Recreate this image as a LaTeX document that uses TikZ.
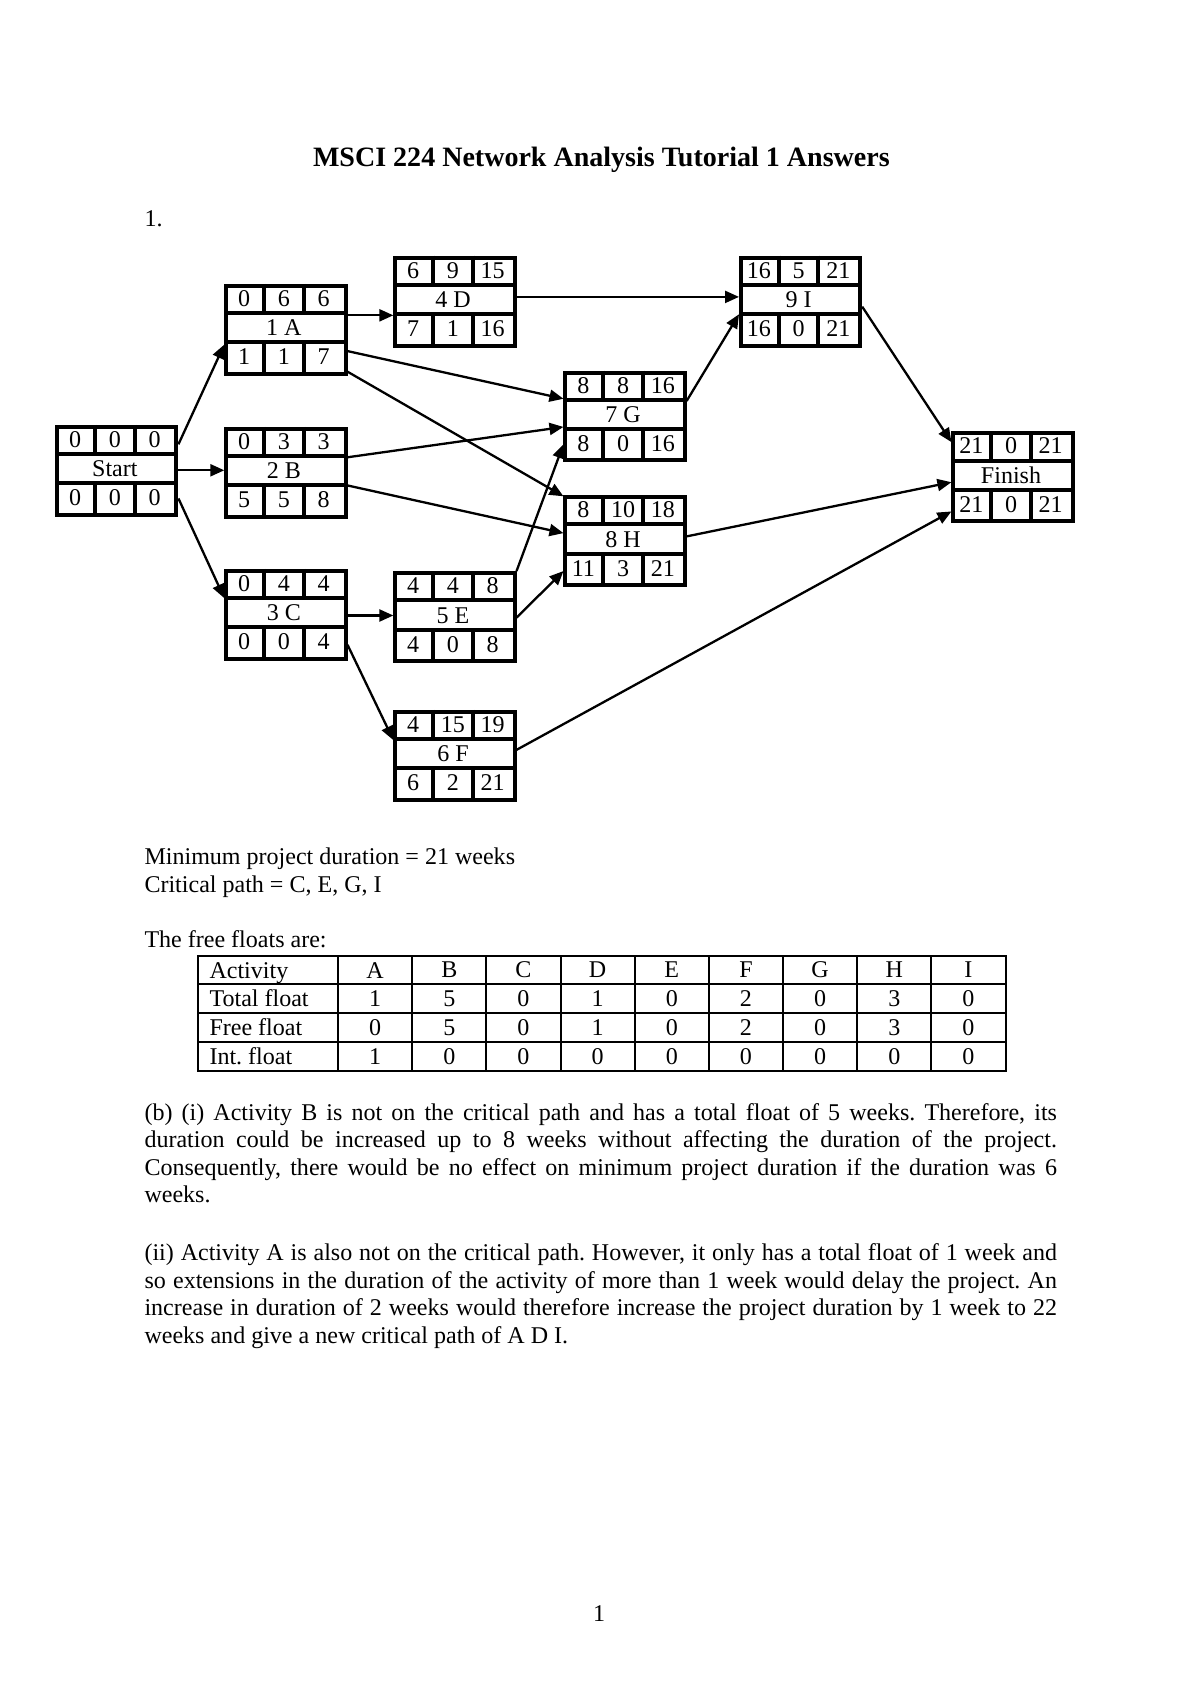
\documentclass[tikz,border=0pt]{standalone}
\usepackage{fontspec}
\setmainfont{Liberation Serif}
\usetikzlibrary{calc,arrows.meta}
\frenchspacing
\tikzset{
  actbox/.style={draw, line width=2pt, minimum width=59.53pt, minimum height=43.84pt, inner sep=0pt, anchor=north west},
  boxline/.style={line width=2pt},
  celltxt/.style={inner sep=0pt, font=\fontsize{12}{14}\selectfont},
  conn/.style={line width=1.15pt, -{Triangle[length=7pt,width=6pt]}},
  tline/.style={line width=1pt},
  txt/.style={inner sep=0pt, anchor=base west, font=\fontsize{12}{14}\selectfont},
}
\newcommand\Act[9]{%
  \node[actbox] (#1) at (#2) {};
  \draw[boxline] ($(#1.north west)+(0,27)$) -- ($(#1.north east)+(0,27)$);
  \draw[boxline] ($(#1.north west)+(0,54)$) -- ($(#1.north east)+(0,54)$);
  \draw[boxline] ($(#1.north west)+(36.67,0)$) -- ++(0,27);
  \draw[boxline] ($(#1.north west)+(73.33,0)$) -- ++(0,27);
  \draw[boxline] ($(#1.north west)+(36.67,54)$) -- ++(0,27);
  \draw[boxline] ($(#1.north west)+(73.33,54)$) -- ++(0,27);
  \node[celltxt] (#1-t1) at ($(#1.north west)+(18.33,13.5)$) {#3};
  \node[celltxt] (#1-t2) at ($(#1.north west)+(55,13.5)$) {#4};
  \node[celltxt] (#1-t3) at ($(#1.north west)+(91.67,13.5)$) {#5};
  \node[celltxt, anchor=base] (#1-m) at ($(#1.north west)+(55,48)$) {#6};
  \node[celltxt] (#1-b1) at ($(#1.north west)+(18.33,67.5)$) {#7};
  \node[celltxt] (#1-b2) at ($(#1.north west)+(55,67.5)$) {#8};
  \node[celltxt] (#1-b3) at ($(#1.north west)+(91.67,67.5)$) {#9};
}
\begin{document}
\begin{tikzpicture}[x=0.5412pt, y=-0.5412pt]
\useasboundingbox[fill=white] (0,0) rectangle (1108,1567);

\node[anchor=base, inner sep=0pt] (title) at (555,154) {\bfseries\fontsize{14}{16}\selectfont MSCI 224 Network Analysis Tutorial 1 Answers};
\node[txt] (num1) at (133,209) {1.};

% activity boxes (top-left corners)
\Act{S}{51,392}{0}{0}{0}{Start}{0}{0}{0}
\Act{A}{207,262}{0}{6}{6}{1 A}{1}{1}{7}
\Act{B}{207,394}{0}{3}{3}{2 B}{5}{5}{8}
\Act{C}{207,525}{0}{4}{4}{3 C}{0}{0}{4}
\Act{D}{363,236}{6}{9}{15}{4 D}{7}{1}{16}
\Act{E}{363,527}{4}{4}{8}{5 E}{4}{0}{8}
\Act{F}{363,655}{4}{15}{19}{6 F}{6}{2}{21}
\Act{G}{520,342}{8}{8}{16}{7 G}{8}{0}{16}
\Act{H}{520,457}{8}{10}{18}{8 H}{11}{3}{21}
\Act{I}{682,236}{16}{5}{21}{9 I}{16}{0}{21}
\Act{Fin}{878,398}{21}{0}{21}{Finish}{21}{0}{21}

% connectors
\draw[conn] ($(S.north east)+(0,18)$) -- ($(A.north west)+(0,56)$);
\draw[conn] ($(S.north east)+(0,42)$) -- ($(B.north west)+(0,40)$);
\draw[conn] ($(S.north east)+(0,68)$) -- ($(C.north west)+(0,27)$);
\draw[conn] ($(A.north east)+(0,29)$) -- ($(D.north west)+(0,55)$);
\draw[conn] ($(A.north east)+(0,62)$) -- ($(G.north west)+(0,26)$);
\draw[conn] ($(A.north east)+(0,81)$) -- ($(H.north west)+(0,1)$);
\draw[conn] ($(B.north east)+(0,28)$) -- ($(G.north west)+(0,52)$);
\draw[conn] ($(B.north east)+(0,54)$) -- ($(H.north west)+(0,35)$);
\draw[conn] ($(C.north east)+(0,43)$) -- ($(E.north west)+(0,41)$);
\draw[conn] ($(C.north east)+(0,70)$) -- ($(F.north west)+(0,28)$);
\draw[conn] ($(E.north east)+(0,0)$) -- ($(G.north west)+(0,68)$);
\draw[conn] ($(E.north east)+(0,43)$) -- ($(H.north west)+(0,70)$);
\draw[conn] ($(F.north east)+(0,37)$) -- ($(Fin.north west)+(0,74)$);
\draw[conn] ($(D.north east)+(0,38)$) -- ($(I.north west)+(0,38)$);
\draw[conn] ($(G.north east)+(0,28)$) -- ($(I.north west)+(0,54)$);
\draw[conn] ($(H.north east)+(0,38)$) -- ($(Fin.north west)+(0,47)$);
\draw[conn] ($(I.north east)+(0,47)$) -- ($(Fin.north west)+(0,10)$);

% text
\node[txt] (dur) at (133,798) {Minimum project duration = 21 weeks};
\node[txt] (crit) at (133,824) {Critical path = C, E, G, I};
\node[txt] (ff) at (133,874) {The free floats are:};

% table
\draw[tline] (183,882) rectangle (928,988);
\foreach \r in {1,2,3} {\draw[tline] (183,882+26.5*\r) -- (928,882+26.5*\r);}
\draw[tline] (312,882) -- (312,988);
\foreach \c in {1,...,8} {\draw[tline] (312+68.444*\c,882) -- (312+68.444*\c,988);}
\foreach \lab [count=\r from 0] in {Activity,Total float,Free float,Int.\ float}
  {\node[celltxt, anchor=base west] (row\r) at (193,902.75+26.5*\r) {\lab};}
\foreach \v [count=\c from 0] in {A,B,C,D,E,F,G,H,I}
  {\node[celltxt] (h\c) at (346.2+68.444*\c,895.25) {\v};}
\foreach \v [count=\c from 0] in {1,5,0,1,0,2,0,3,0}
  {\node[celltxt] (tf\c) at (346.2+68.444*\c,921.75) {\v};}
\foreach \v [count=\c from 0] in {0,5,0,1,0,2,0,3,0}
  {\node[celltxt] (fr\c) at (346.2+68.444*\c,948.25) {\v};}
\foreach \v [count=\c from 0] in {1,0,0,0,0,0,0,0,0}
  {\node[celltxt] (in\c) at (346.2+68.444*\c,974.75) {\v};}

% paragraphs
\node[txt] (p1) at (133,1034) {\makebox[455.7pt][s]{(b) (i) Activity B is not on the critical path and has a total float of 5 weeks. Therefore, its}};
\node[txt] (p2) at (133,1059) {\makebox[455.7pt][s]{duration could be increased up to 8 weeks without affecting the duration of the project.}};
\node[txt] (p3) at (133,1085) {\makebox[455.7pt][s]{Consequently, there would be no effect on minimum project duration if the duration was 6}};
\node[txt] (p4) at (133,1110) {weeks.};
\node[txt] (q1) at (133,1163) {\makebox[455.7pt][s]{(ii) Activity A is also not on the critical path. However, it only has a total float of 1 week and}};
\node[txt] (q2) at (133,1189) {\makebox[455.7pt][s]{so extensions in the duration of the activity of more than 1 week would delay the project. An}};
\node[txt] (q3) at (133,1214) {\makebox[455.7pt][s]{increase in duration of 2 weeks would therefore increase the project duration by 1 week to 22}};
\node[txt] (q4) at (133,1240) {weeks and give a new critical path of A D I.};

\node[anchor=base, inner sep=0pt, font=\fontsize{12}{14}\selectfont] (pg) at (553,1496) {1};
\end{tikzpicture}
\end{document}
